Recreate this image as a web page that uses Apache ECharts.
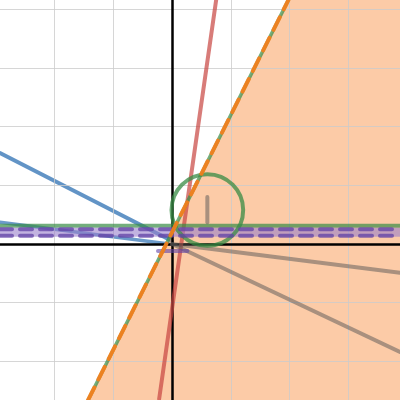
<!DOCTYPE html>
<html><head><meta charset="utf-8">
<script src="https://cdn.jsdelivr.net/npm/echarts@6/dist/echarts.min.js"></script>
<style>html,body{margin:0;padding:0;background:#fff}#c{width:400px;height:400px}</style>
</head><body><div id="c"></div>
<script>
const xRange = [-2.93, 3.88];
const yRange = [-2.66, 4.16];
const gridX = [-2, -1, 1, 2, 3];
const gridY = [-2, -1, 1, 2, 3, 4];
const shadedRegion = [[1.98, 4.16], [3.88, 4.16], [3.88, -2.66], [-1.43, -2.66]];
const boundaryLine = [[-1.43, -2.66], [1.98, 4.16]];
const redLine = [[-0.22, -2.64], [0.75, 4.16]];
const blueLine1 = [[-2.93, 1.55], [0, 0.05]];
const blueLine2 = [[-2.93, 0.37], [-0.05, 0.0]];
const grayLine1 = [[0, 0], [3.88, -0.49]];
const grayLine2 = [[0, 0], [3.88, -1.84]];
const greenHLine = [[-2.93, 0.31], [3.88, 0.31]];
const purpleBand = [[-2.93, 0.2], [3.88, 0.2]];
const purpleDash1 = [[-2.93, 0.25], [3.88, 0.25]];
const purpleDash2 = [[-2.93, 0.14], [3.88, 0.14]];
const purpleShort = [[-0.24, -0.12], [0.26, -0.12]];
const graySeg = [[0.6, 0.8], [0.6, 0.37]];
const circle = [[0.6, 0.58, 0.61]];

const ch = echarts.init(document.getElementById('c'));
function ln(data, color, width, opacity, type, z) {
  return {type: 'line', data, showSymbol: false, silent: true, z: z || 3,
    lineStyle: {color, width, opacity, type: type || 'solid', cap: 'round'}};
}
const gridMarks = gridX.map(v => ({xAxis: v})).concat(gridY.map(v => ({yAxis: v})));
ch.setOption({
  animation: false,
  grid: {left: 0, right: 0, top: 0, bottom: 0},
  xAxis: {type: 'value', min: xRange[0], max: xRange[1], show: false},
  yAxis: {type: 'value', min: yRange[0], max: yRange[1], show: false},
  series: [
    {type: 'line', data: [], z: 1, markLine: {silent: true, symbol: 'none', label: {show: false},
      lineStyle: {color: '#ccc', width: 1, type: 'solid', opacity: 0.8}, data: gridMarks}},
    {type: 'line', data: [], z: 2, markLine: {silent: true, symbol: 'none', label: {show: false},
      lineStyle: {color: '#000', width: 2.5, type: 'solid'}, data: [{xAxis: 0}, {yAxis: 0}]}},
    {type: 'custom', z: 4, silent: true, data: [0],
      renderItem: (p, api) => ({type: 'polygon',
        shape: {points: shadedRegion.map(q => api.coord(q))},
        style: {fill: 'rgba(248,140,60,0.45)'}})},
    ln(redLine, '#c74440', 4, 0.7, 'solid', 5),
    ln(blueLine1, '#2d70b3', 4, 0.75),
    ln(blueLine2, '#2d70b3', 3.5, 0.7),
    ln(grayLine1, '#555', 4, 0.5, 'solid', 5),
    ln(grayLine2, '#555', 4, 0.5, 'solid', 5),
    ln(greenHLine, '#388c46', 4, 0.7, 'solid', 5),
    ln(purpleBand, '#9a80cc', 9, 0.6, 'solid', 5),
    ln(purpleDash1, '#6042a6', 4, 0.75, [12, 8], 6),
    ln(purpleDash2, '#6042a6', 4, 0.75, [12, 8], 6),
    ln(purpleShort, '#6042a6', 4, 0.6, 'solid', 6),
    ln(graySeg, '#555', 4, 0.5, 'solid', 6),
    ln(boundaryLine, '#388c46', 3.5, 0.7, 'solid', 6),
    ln(boundaryLine, '#fa7e19', 4, 0.9, [14, 9], 7),
    {type: 'custom', z: 6, silent: true, data: circle,
      renderItem: (p, api) => {
        const c = api.coord([api.value(0), api.value(1)]);
        const r = api.size([api.value(2), 0])[0];
        return {type: 'circle', shape: {cx: c[0], cy: c[1], r},
          style: {fill: 'none', stroke: 'rgba(56,140,70,0.75)', lineWidth: 4}};
      }}
  ]
});
</script></body></html>
